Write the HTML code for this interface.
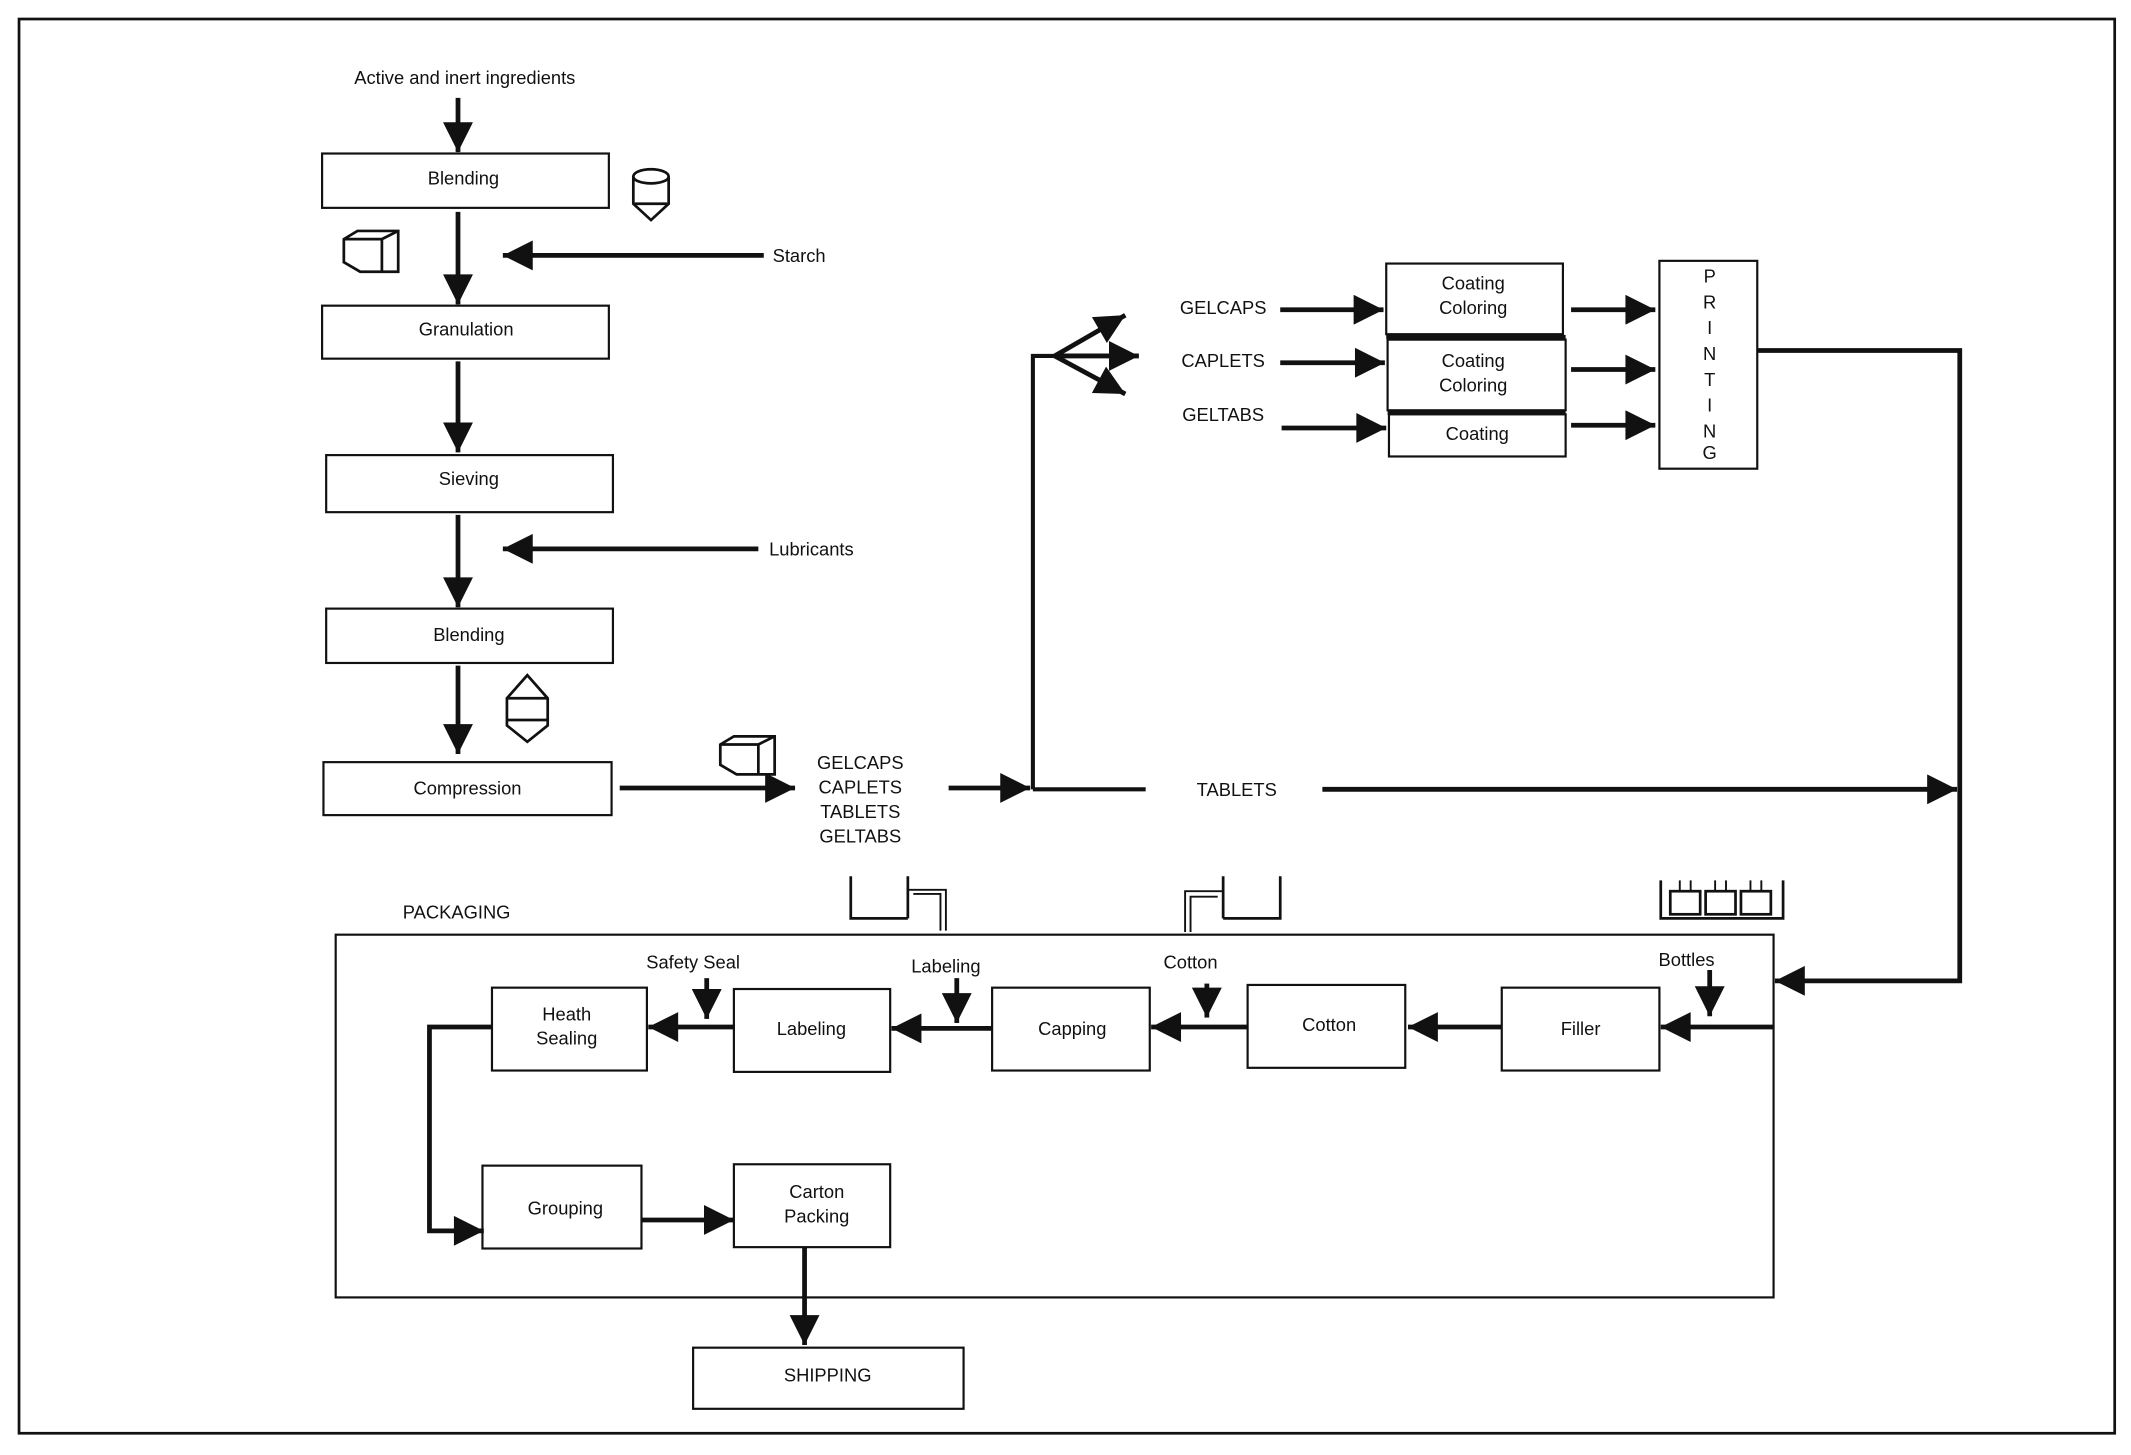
<!DOCTYPE html>
<html><head><meta charset="utf-8"><style>html,body{margin:0;padding:0;background:#fff}svg{display:block}text{font-family:"Liberation Sans",sans-serif;fill:#111}</style></head>
<body>
<svg width="2131" height="1455" viewBox="0 0 1568 1071" preserveAspectRatio="none" xmlns="http://www.w3.org/2000/svg">
<defs>
<marker id="a" viewBox="0 0 10 10" refX="10" refY="5" markerWidth="10" markerHeight="6" markerUnits="userSpaceOnUse" orient="auto"><path d="M0,0L10,5L0,10z" fill="#111"/></marker>
<marker id="b" viewBox="0 0 10 10" refX="10" refY="5" markerWidth="30" markerHeight="22" markerUnits="userSpaceOnUse" orient="auto"><path d="M0,0L10,5L0,10z" fill="#111"/></marker>
</defs>
<g fill="none" stroke="#111">
<rect x="14" y="14" width="1542" height="1041" stroke-width="2"/>
<g stroke-width="1.6" fill="#fff">
<rect x="237" y="113" width="211" height="40"/>
<rect x="237" y="225" width="211" height="39"/>
<rect x="240" y="335" width="211" height="42"/>
<rect x="240" y="448" width="211" height="40"/>
<rect x="238" y="561" width="212" height="39"/>
<rect x="1020" y="194" width="130" height="52"/>
<rect x="1021" y="250" width="131" height="52"/>
<rect x="1022" y="305" width="130" height="31"/>
<rect x="1221" y="192" width="72" height="153"/>
<rect x="247" y="688" width="1058" height="267"/>
<rect x="362" y="727" width="114" height="61"/>
<rect x="540" y="728" width="115" height="61"/>
<rect x="730" y="727" width="116" height="61"/>
<rect x="918" y="725" width="116" height="61"/>
<rect x="1105" y="727" width="116" height="61"/>
<rect x="355" y="858" width="117" height="61"/>
<rect x="540" y="857" width="115" height="61"/>
<rect x="510" y="992" width="199" height="45"/>
</g>
<line x1="1020" y1="248" x2="1152" y2="248" stroke-width="3"/>
<line x1="1021" y1="304" x2="1152" y2="304" stroke-width="3"/>
<g stroke-width="3.5" marker-end="url(#b)">
<line x1="337" y1="72" x2="337" y2="112"/>
<line x1="337" y1="156" x2="337" y2="224"/>
<line x1="562" y1="188" x2="370" y2="188"/>
<line x1="337" y1="266" x2="337" y2="333"/>
<line x1="337" y1="379" x2="337" y2="447"/>
<line x1="558" y1="404" x2="370" y2="404"/>
<line x1="337" y1="490" x2="337" y2="555"/>
<line x1="456" y1="580" x2="585" y2="580"/>
<line x1="698" y1="580" x2="758" y2="580"/>
<line x1="973" y1="581" x2="1440" y2="581"/>
<line x1="942" y1="228" x2="1018" y2="228"/>
<line x1="942" y1="267" x2="1019" y2="267"/>
<line x1="943" y1="315" x2="1020" y2="315"/>
<line x1="1156" y1="228" x2="1218" y2="228"/>
<line x1="1156" y1="272" x2="1218" y2="272"/>
<line x1="1156" y1="313" x2="1218" y2="313"/>
<line x1="1305" y1="756" x2="1222" y2="756"/>
<line x1="1105" y1="756" x2="1036" y2="756"/>
<line x1="918" y1="756" x2="847" y2="756"/>
<line x1="730" y1="757" x2="656" y2="757"/>
<line x1="540" y1="756" x2="477" y2="756"/>
<line x1="472" y1="898" x2="540" y2="898"/>
<line x1="592" y1="918" x2="592" y2="990"/>
<line x1="1258" y1="714" x2="1258" y2="748"/>
<line x1="888" y1="724" x2="888" y2="749"/>
<line x1="704" y1="720" x2="704" y2="753"/>
<line x1="520" y1="720" x2="520" y2="750"/>
<polyline points="362,756 316,756 316,906 356,906"/>
<polyline points="1293,258 1442,258 1442,722 1306,722"/>
<line x1="776" y1="262" x2="828" y2="232"/>
<line x1="776" y1="262" x2="838" y2="262"/>
<line x1="776" y1="262" x2="828" y2="290"/>
</g>
<g stroke-width="3">
<polyline points="760,581 760,262 776,262"/>
<line x1="760" y1="581" x2="843" y2="581"/>
</g>
<!-- icons -->
<g stroke-width="2">
<path d="M466,130 a12,5 0 0 1 26,0 v20 l-13,12 l-13,-12z"/><path d="M466,130 a13,5 0 0 0 26,0"/><line x1="467" y1="150" x2="491" y2="150"/>
<path d="M253,176 l10,-6 h30 v30 h-28 l-12,-7z M253,176 h28 v24 M281,176 l12,-6"/>
<path d="M530,548 l10,-6 h30 v28 h-28 l-12,-7z M530,548 h28 v22 M558,548 l12,-6"/>
<path d="M388,497 l-15,17 v20 l15,12 l15,-12 v-20z M373,514 h30 M373,530 h30"/>
<path d="M626,645 v31 h42 M668,645 v31"/><path d="M668,655 h28 v30 M672,658 h20 v27" stroke-width="1.4"/>
<path d="M942,645 v31 h-42 M900,645 v31"/><path d="M900,656 h-28 v30 M896,660 h-20 v26" stroke-width="1.4"/>
<path d="M1222,648 v28 h90 v-28"/>
<rect x="1229" y="656" width="22" height="17"/><rect x="1255" y="656" width="22" height="17"/><rect x="1281" y="656" width="22" height="17"/>
<path d="M1236,656 v-8 M1244,656 v-8 M1262,656 v-8 M1270,656 v-8 M1288,656 v-8 M1296,656 v-8" stroke-width="1.4"/>
</g>
</g>
<g font-size="13.5" text-anchor="middle">
<text x="342" y="62">Active and inert ingredients</text>
<text x="341" y="136">Blending</text>
<text x="343" y="247">Granulation</text>
<text x="345" y="357">Sieving</text>
<text x="345" y="472">Blending</text>
<text x="344" y="585">Compression</text>
<text x="588" y="193">Starch</text>
<text x="597" y="409">Lubricants</text>
<text x="633" y="566">GELCAPS</text>
<text x="633" y="584">CAPLETS</text>
<text x="633" y="602">TABLETS</text>
<text x="633" y="620">GELTABS</text>
<text x="910" y="586">TABLETS</text>
<text x="900" y="231">GELCAPS</text>
<text x="900" y="270">CAPLETS</text>
<text x="900" y="310">GELTABS</text>
<text x="1084" y="213">Coating</text><text x="1084" y="231">Coloring</text>
<text x="1084" y="270">Coating</text><text x="1084" y="288">Coloring</text>
<text x="1087" y="324">Coating</text>
<text x="1258" y="208">P</text><text x="1258" y="227">R</text><text x="1258" y="246">I</text><text x="1258" y="265">N</text><text x="1258" y="284">T</text><text x="1258" y="303">I</text><text x="1258" y="322">N</text><text x="1258" y="338">G</text>
<text x="336" y="676">PACKAGING</text>
<text x="510" y="713">Safety Seal</text>
<text x="696" y="716">Labeling</text>
<text x="876" y="713">Cotton</text>
<text x="1241" y="711">Bottles</text>
<text x="417" y="751">Heath</text><text x="417" y="769">Sealing</text>
<text x="597" y="762">Labeling</text>
<text x="789" y="762">Capping</text>
<text x="978" y="759">Cotton</text>
<text x="1163" y="762">Filler</text>
<text x="416" y="894">Grouping</text>
<text x="601" y="882">Carton</text><text x="601" y="900">Packing</text>
<text x="609" y="1017">SHIPPING</text>
</g>
</svg>
</body></html>
